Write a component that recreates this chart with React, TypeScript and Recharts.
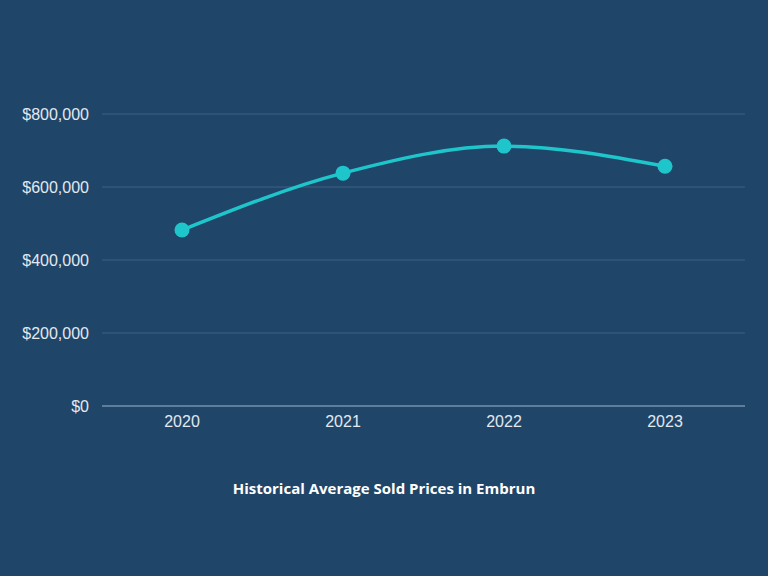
import { LineChart, Line, XAxis, YAxis, CartesianGrid } from "recharts";

const years = ["2020", "2021", "2022", "2023"];
const avgPrices = [482000, 638000, 712000, 657000];
const yTicks = [0, 200000, 400000, 600000, 800000];

const data = years.map((year, i) => ({ year, price: avgPrices[i] }));

const fmt = (v: number) => "$" + v.toLocaleString("en-US");

const App = () => {
  return (
    <div
      style={{
        position: "absolute",
        left: 0,
        top: 0,
        width: 768,
        height: 576,
        background: "#1f4569",
        fontFamily: "'Liberation Sans', Arial, sans-serif",
      }}
    >
      <LineChart
        width={768}
        height={576}
        data={data}
        margin={{ top: 114, right: 23, bottom: 140, left: 0 }}
      >
        <CartesianGrid vertical={false} stroke="#3e6286" strokeWidth={1} />
        <XAxis
          dataKey="year"
          height={30}
          padding={{ left: 80, right: 80 }}
          axisLine={{ stroke: "#8ea8c2" }}
          tickLine={false}
          tickSize={0}
          tickMargin={10}
          tick={{ fill: "#e3e9f0", fontSize: 16 }}
        />
        <YAxis
          width={102}
          domain={[0, 800000]}
          ticks={yTicks}
          tickFormatter={fmt}
          axisLine={false}
          tickLine={false}
          tickSize={0}
          tickMargin={13}
          tick={{ fill: "#e3e9f0", fontSize: 16 }}
        />
        <Line
          type="monotone"
          dataKey="price"
          stroke="#1ec6cc"
          strokeWidth={3.5}
          dot={{ r: 7.5, fill: "#1ec6cc", stroke: "none" }}
          isAnimationActive={false}
        />
      </LineChart>
      <div
        style={{
          position: "absolute",
          left: 0,
          top: 478,
          width: 768,
          textAlign: "center",
          color: "#ffffff",
          fontFamily: "'Open Sans', sans-serif",
          fontWeight: 700,
          fontSize: 15,
        }}
      >
        Historical Average Sold Prices in Embrun
      </div>
    </div>
  );
};

export default App;
